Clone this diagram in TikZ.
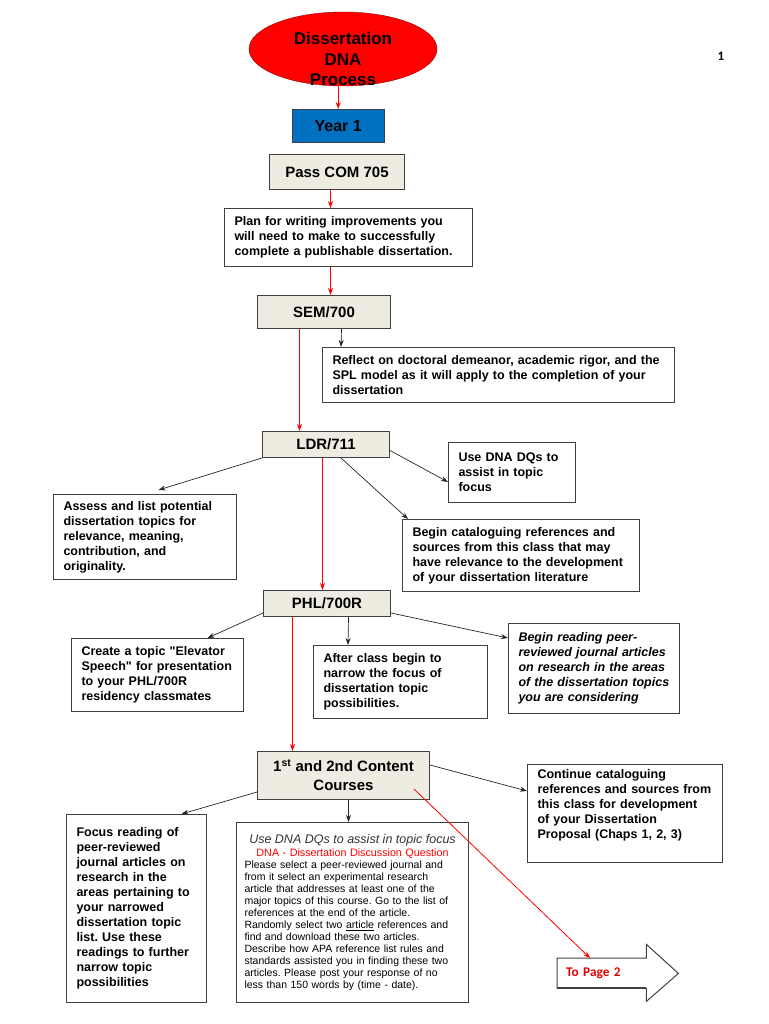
\documentclass[tikz,border=0pt]{standalone}
\usepackage{fontspec}
\setmainfont{Liberation Sans}
\newfontfamily\calibrifont{Carlito}
\usetikzlibrary{shapes.geometric,arrows.meta,positioning}
\definecolor{beige}{HTML}{EEECE1}
\definecolor{yearblue}{HTML}{0070C0}
\definecolor{darkline}{HTML}{404040}
\tikzset{>={Stealth[length=7pt,width=5pt]}}
\tikzset{
  course/.style={draw=darkline, line width=1pt, fill=beige, anchor=north west, align=center, font=\fontsize{15}{19}\selectfont\bfseries},
  note/.style={draw=darkline, line width=1pt, fill=white, anchor=north west, align=left, inner xsep=10pt, font=\fontsize{12.5}{15}\selectfont\bfseries},
  redarrow/.style={red, line width=0.8pt, ->},
  blackarrow/.style={black!85, line width=0.7pt, ->}
}
\frenchspacing

\begin{document}
\begin{tikzpicture}[x=1pt,y=-1pt]
\useasboundingbox (0,0) rectangle (768,1024);
% start and year
\node[ellipse, draw=red!60!black, fill=red, minimum width=188pt, minimum height=74pt] (dna) at (343,49) {};
\node[align=center, font=\fontsize{17}{20.5}\selectfont\bfseries] (dnatext) at (343,59) {Dissertation\\DNA\\Process};
\node[draw=darkline, fill=yearblue, anchor=north west, minimum width=92pt, minimum height=33pt, font=\fontsize{16}{19}\selectfont\bfseries] (year) at (292,109) {Year 1};
\node[font=\calibrifont\fontsize{13}{16}\selectfont\bfseries] (pagenum) at (721,56) {1};
%%%%%%%%%%
\node[course, minimum width=135pt, minimum height=35pt] (pass) at (269,154) {Pass COM 705};
\node[note, text width=228pt, minimum height=58pt] (plan) at (224,208) {Plan for writing improvements you\\will need to make to successfully\\complete a publishable dissertation.};
\node[course, minimum width=133pt, minimum height=33pt] (sem) at (257,295) {SEM/700};
\node[note, text width=332pt, minimum height=55pt] (reflect) at (322,347) {Reflect on doctoral demeanor, academic rigor, and the\\SPL model as it will apply to the completion of your\\dissertation};
%%%%%%%%%%
\node[course, minimum width=127pt, minimum height=26pt] (ldr) at (262,431) {LDR/711};
\node[note, text width=107pt, minimum height=60pt] (dqs) at (448,442) {Use DNA DQs to\\assist in topic\\focus};
\node[note, text width=163pt, minimum height=85pt] (assess) at (53,494) {Assess and list potential\\dissertation topics for\\relevance, meaning,\\contribution, and\\originality.};
\node[note, text width=217pt, minimum height=72pt] (catalog) at (402,519) {Begin cataloguing references and\\sources from this class that may\\have relevance to the development\\of your dissertation literature};
%%%%%%%%%%
\node[course, minimum width=127pt, minimum height=26pt] (phl) at (263,590) {PHL/700R};
\node[note, text width=152pt, minimum height=73pt] (elevator) at (71,638) {Create a topic \textquotedbl Elevator\\Speech\textquotedbl{} for presentation\\to your PHL/700R\\residency classmates};
\node[note, text width=154pt, minimum height=73pt] (narrow) at (313,645) {After class begin to\\narrow the focus of\\dissertation topic\\possibilities.};
\node[note, text width=151pt, minimum height=90pt, font=\fontsize{12.5}{15}\selectfont\bfseries\itshape] (reading) at (508,623) {Begin reading peer-\\reviewed journal articles\\on research in the areas\\of the dissertation topics\\you are considering};
%%%%%%%%%%
\node[course, minimum width=172pt, minimum height=48pt] (courses) at (257,751) {1\textsuperscript{st} and 2nd Content\\Courses};
\node[note, text width=175pt, minimum height=98pt] (proposal) at (527,764) {Continue cataloguing\\references and sources from\\this class for development\\of your Dissertation\\Proposal (Chaps 1, 2, 3)\\\strut};
\node[note, text width=120pt, minimum height=188pt] (focus) at (66,814) {Focus reading of\\peer-reviewed\\journal articles on\\research in the\\areas pertaining to\\your narrowed\\dissertation topic\\list. Use these\\readings to further\\narrow topic\\possibilities};
\node[note, text width=216pt, inner xsep=8pt, minimum height=180pt, font=\fontsize{10.5}{12}\selectfont] (dq) at (236,822) {\makebox[\hsize][c]{\color{black!80}\fontsize{12.5}{13}\selectfont\itshape Use DNA DQs to assist in topic focus}\\[1pt]
\makebox[\hsize][c]{\color{red}\fontsize{10.75}{12}\selectfont DNA - Dissertation Discussion Question}\\
Please select a peer-reviewed journal and\\from it select an experimental research\\article that addresses at least one of the\\major topics of this course. Go to the list of\\references at the end of the article.\\Randomly select two \underline{article} references and\\find and download these two articles.\\Describe how APA reference list rules and\\standards assisted you in finding these two\\articles. Please post your response of no\\less than 150 words by (time - date).};
\node[anchor=north west, text width=71pt, inner xsep=9pt, minimum height=30pt, align=left, text=red!90!black, font=\calibrifont\fontsize{13.3}{16}\selectfont\bfseries] (topage) at (557,958) {To Page 2};
\draw[darkline, line width=1pt] (topage.north east) -- (topage.north west) -- (topage.south west) -- (topage.south east) -- ++(0,13) -- ++(32,-28) -- ++(-32,-29) -- cycle;
\draw[darkline, line width=2pt] (topage.south west) -- (topage.south east);
%%%%%%%%%%
\draw[redarrow] (year.north |- dna.south) -- (year.north);
\draw[redarrow] ([xshift=-6.5pt]pass.south) -- ([xshift=-18pt]plan.north);
\draw[redarrow] ([xshift=-18pt]plan.south) -- ([xshift=6.5pt]sem.north);
\draw[blackarrow] ([xshift=17.5pt]sem.south) -- ([xshift=19pt]reflect.north west);
\draw[redarrow] ([xshift=-24.5pt]sem.south) -- ([xshift=-26.5pt]ldr.north);
\draw[blackarrow] (ldr.south west) -- ([xshift=13.5pt,yshift=4pt]assess.north);
\draw[blackarrow] ([yshift=-6pt]ldr.east) -- ([yshift=-40pt]dqs.north west);
\draw[blackarrow] ([xshift=15pt]ldr.south) -- ([xshift=6pt]catalog.north west);
\draw[redarrow] ([xshift=-3.5pt]ldr.south) -- ([xshift=-4.5pt]phl.north);
\draw[blackarrow] ([yshift=4pt]phl.south west) -- ([xshift=50pt]elevator.north);
\draw[blackarrow] ([xshift=21.5pt]phl.south) -- ([xshift=35pt]narrow.north west);
\draw[blackarrow] ([yshift=4pt]phl.south east) -- ([yshift=-15pt]reading.north west);
\draw[redarrow] ([xshift=-34.5pt]phl.south) -- ([xshift=-51pt]courses.north);
\draw[blackarrow] ([yshift=8pt]courses.south west) -- ([xshift=45pt]focus.north);
\draw[blackarrow] ([xshift=5pt]courses.south) -- ([xshift=-4pt]dq.north);
\draw[blackarrow] ([yshift=-14pt]courses.north east) -- ([yshift=-27pt]proposal.north west);
\draw[redarrow] ([xshift=-16pt,yshift=11pt]courses.south east) -- ([xshift=33pt]topage.north west);
\end{tikzpicture}
\end{document}
